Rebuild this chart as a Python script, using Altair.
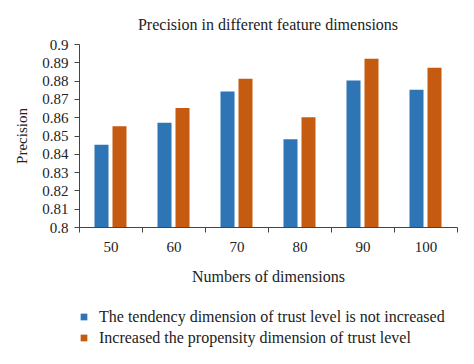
import altair as alt
import pandas as pd

dims = ["50", "60", "70", "80", "90", "100"]
series_names = [
    "The tendency dimension of trust level is not increased",
    "Increased the propensity dimension of trust level",
]
not_increased = [0.845, 0.857, 0.874, 0.848, 0.880, 0.875]
increased = [0.855, 0.865, 0.881, 0.860, 0.892, 0.887]
y_ticks = [0.8, 0.81, 0.82, 0.83, 0.84, 0.85, 0.86, 0.87, 0.88, 0.89, 0.9]
colors = ["#2E75B6", "#C55A11"]

rows = []
for d, a, b in zip(dims, not_increased, increased):
    rows.append({"dim": d, "series": series_names[0], "value": a})
    rows.append({"dim": d, "series": series_names[1], "value": b})
df = pd.DataFrame(rows)

font = "Liberation Serif"

chart = (
    alt.Chart(df)
    .mark_bar(size=14, clip=True)
    .encode(
        x=alt.X(
            "dim:N",
            sort=dims,
            scale=alt.Scale(paddingInner=0, paddingOuter=0),
            axis=alt.Axis(
                title="Numbers of dimensions",
                labelAngle=0,
                tickBand="extent",
                labelPadding=7,
                titlePadding=14,
                titleFontSize=16,
            ),
        ),
        xOffset=alt.XOffset(
            "series:N",
            sort=series_names,
            scale=alt.Scale(paddingInner=0.222, paddingOuter=0.861),
        ),
        y=alt.Y(
            "value:Q",
            scale=alt.Scale(domain=[0.8, 0.9], nice=False, zero=False),
            axis=alt.Axis(
                title="Precision",
                values=y_ticks,
                format=".2~f",
                grid=False,
                labelPadding=6,
                titlePadding=12,
            ),
        ),
        color=alt.Color(
            "series:N",
            sort=series_names,
            scale=alt.Scale(domain=series_names, range=colors),
            legend=alt.Legend(
                title=None,
                orient="none",
                legendX=-3,
                legendY=265,
                symbolType="square",
                symbolSize=45,
                labelFontSize=16,
                labelFont=font,
                labelColor="#222222",
                rowPadding=5,
                labelLimit=500,
                labelOffset=7,
            ),
        ),
    )
    .properties(
        width=378,
        height=183,
        title=alt.TitleParams(
            "Precision in different feature dimensions",
            font=font,
            fontSize=16,
            fontWeight="normal",
            color="#222222",
            anchor="middle",
            offset=4,
        ),
        autosize=alt.AutoSizeParams(type="none"),
        padding={"left": 71, "top": 36, "right": 9, "bottom": 129},
    )
    .configure_axis(
        labelFont=font,
        titleFont=font,
        labelFontSize=15,
        titleFontSize=15,
        titleFontWeight="normal",
        labelColor="#222222",
        titleColor="#222222",
        domainColor="#444444",
        tickColor="#444444",
        tickSize=5,
    )
    .configure_view(stroke=None)
)

chart.save("out.html", embed_options={"renderer": "svg", "actions": False})
